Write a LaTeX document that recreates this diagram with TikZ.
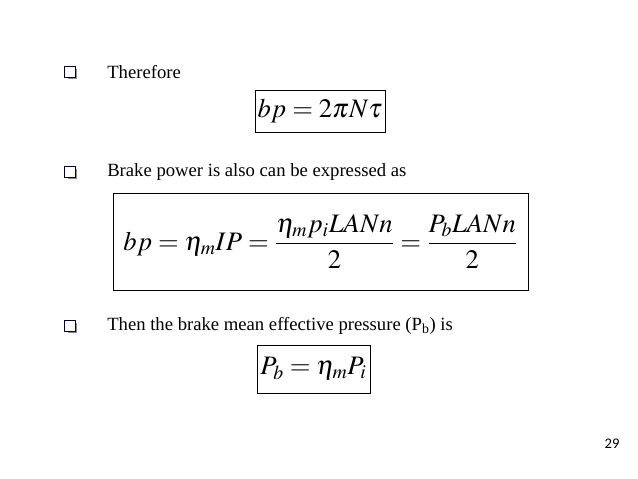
\documentclass[tikz,border=0pt]{standalone}
\usepackage{mathptmx}
\usepackage{amsmath}
\usepackage[no-math]{fontspec}
\setmainfont{Liberation Serif}
\newfontfamily\pgnum{Carlito}
\begin{document}
\begin{tikzpicture}[x=0.75pt,y=-0.75pt]
\tikzset{bul/.style={draw=black!80!blue,line width=0.8pt,minimum size=8pt,inner sep=0pt,fill=white},
 txt/.style={anchor=west,font=\fontsize{14}{16}\selectfont,inner sep=0pt},
 eqbox/.style={draw,line width=0.6pt,inner sep=2pt,font=\fontsize{20}{24}\selectfont}}
\useasboundingbox (0,0) rectangle (638,478);
\foreach \n/\y in {b1/72,b2/172,b3/326}{
 \fill[black!45] (68,\y-3) rectangle (77,\y+7);
 \node[bul] (\n) at (70,\y) {};
}
\node[txt] (t1) at (107,72) {Therefore};
\node[txt] (t2) at (107,172) {Brake power is also can be expressed as};
\node[txt] (t3) at (107,326) {Then the brake mean effective pressure (P\textsubscript{b}) is};
\node[eqbox,minimum width=130*0.75pt,minimum height=42*0.75pt] (e1) at (320,111) {$bp=2\pi N\tau$};
\node[eqbox,minimum width=415*0.75pt,minimum height=97*0.75pt] (e2) at (320.5,241.5)
 {$bp=\eta_m IP=\dfrac{\eta_m p_i LANn}{2}=\dfrac{P_b LANn}{2}$};
\node[eqbox,minimum width=113*0.75pt,minimum height=48*0.75pt] (e3) at (313.5,369) {$P_b=\eta_m P_i$};
\node[font=\pgnum\fontsize{11}{13}\selectfont] (pg) at (612,444) {29};
\end{tikzpicture}
\end{document}
